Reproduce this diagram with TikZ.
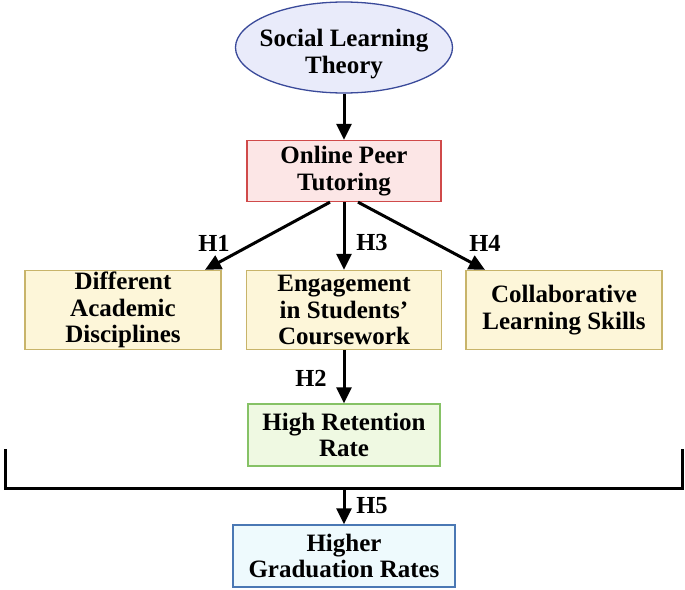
\documentclass[tikz,border=0pt]{standalone}
\usepackage{fontspec}
\setmainfont{Liberation Serif}
\usetikzlibrary{arrows.meta,shapes.geometric}
\definecolor{ellfill}{HTML}{E9EBFA}
\definecolor{elldraw}{HTML}{3A4A9A}
\definecolor{redfill}{HTML}{FCE6E6}
\definecolor{reddraw}{HTML}{D04A4A}
\definecolor{yelfill}{HTML}{FDF6D9}
\definecolor{yeldraw}{HTML}{C8B46A}
\definecolor{grnfill}{HTML}{EFF9E2}
\definecolor{grndraw}{HTML}{86C266}
\definecolor{blufill}{HTML}{EEFAFD}
\definecolor{bludraw}{HTML}{4A78B4}
\tikzset{
  x=1pt,y=-1pt,
  txt/.style={font=\fontsize{25}{26.5}\selectfont\bfseries, align=center},
  boxnode/.style={txt, draw, line width=1.3pt, inner sep=0pt, rectangle},
  arr/.style={line width=3pt, -{Triangle[length=16pt,width=15pt]}},
  hlabel/.style={font=\fontsize{24.5}{26}\selectfont\bfseries, inner sep=0pt}
}
\begin{document}
\begin{tikzpicture}
\useasboundingbox (0,0) rectangle (685,589);
\node[ellipse, draw=elldraw, fill=ellfill, line width=1.3pt, minimum width=217pt, minimum height=91pt, inner sep=0pt] (slt) at (344,47.5) {};
\node[txt, inner sep=0pt] (sltt) at (344,54) {Social Learning\\Theory};
\node[boxnode, draw=reddraw, fill=redfill, minimum width=194pt, minimum height=61pt] (opt) at (344,171) {Online Peer\\Tutoring};
\node[boxnode, draw=yeldraw, fill=yelfill, minimum width=196pt, minimum height=79pt] (dad) at (123,310) {Different\\Academic\\Disciplines};
\node[boxnode, draw=yeldraw, fill=yelfill, minimum width=195pt, minimum height=79pt] (esc) at (344,310) {Engagement\\in Students'\\Coursework};
\node[boxnode, draw=yeldraw, fill=yelfill, minimum width=196pt, minimum height=79pt] (cls) at (564,310) {Collaborative\\Learning Skills};
\node[boxnode, draw=grndraw, fill=grnfill, minimum width=192pt, minimum height=62pt] (hrr) at (344,435) {High Retention\\Rate};
\node[boxnode, draw=bludraw, fill=blufill, minimum width=222pt, minimum height=62pt] (hgr) at (344,556) {Higher\\Graduation Rates};

\node[hlabel] (h1) at (214,243) {H1};
\node[hlabel] (h3) at (372,243) {H3};
\node[hlabel] (h4) at (485,243) {H4};
\node[hlabel] (h2) at (311,378) {H2};
\node[hlabel] (h5) at (372,506) {H5};

\coordinate (bl) at (5,449);
\coordinate (blc) at (5,488);
\coordinate (brc) at (682,488);
\coordinate (br) at (682,449);
\coordinate (bm) at (344,488);

\draw[arr] (slt.south) -- (opt.north);
\draw[arr] (opt.south -| 330,0) -- (dad.north -| 205,0);
\draw[arr] (opt.south) -- (esc.north);
\draw[arr] (opt.south -| 358,0) -- (cls.north -| 485,0);
\draw[arr] (esc.south) -- (hrr.north);
\draw[line width=3pt] (bl) -- (blc) -- (brc) -- (br);
\draw[arr] (bm) -- (hgr.north);
\end{tikzpicture}
\end{document}
